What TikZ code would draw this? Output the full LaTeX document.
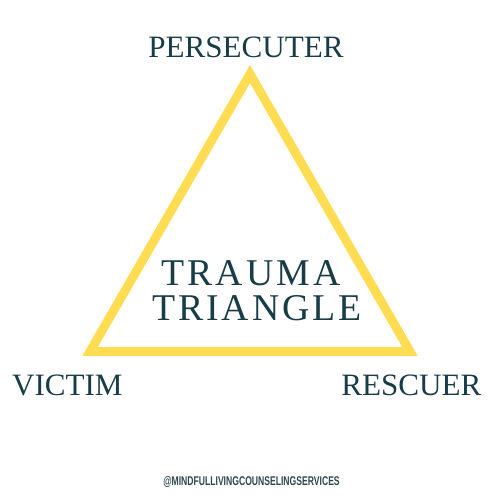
\documentclass[tikz,border=0pt]{standalone}
\usepackage{fontspec}
\setmainfont{Liberation Serif}
\newfontfamily\spacedserif[LetterSpace=8]{Liberation Serif}
\newfontfamily\tagsans{Liberation Sans}
\definecolor{triyellow}{RGB}{255,220,82}
\definecolor{tealtext}{RGB}{24,61,72}
\definecolor{tagtext}{RGB}{45,72,80}
\begin{document}
\begin{tikzpicture}[x=0.02cm,y=-0.02cm,
  rolelabel/.style={inner sep=0pt,text=tealtext,font=\fontsize{17.7}{20}\selectfont},
  titlelabel/.style={inner sep=0pt,text=tealtext,font=\spacedserif\fontsize{21.5}{24}\selectfont},
  taglabel/.style={inner sep=0pt,text=tagtext,font=\tagsans\bfseries\fontsize{7.2}{8}\selectfont},
  triline/.style={draw=triyellow,line width=5.1pt,line join=miter}]
\useasboundingbox[fill=white] (0,0) rectangle (500,500);
\coordinate (apex) at (250,74);
\coordinate (left) at (90,351.5);
\coordinate (right) at (410,351.5);
\draw[triline] (apex) -- (left) -- (right) -- cycle;
\node[rolelabel,anchor=base] (persecuter) at (246,57.3) {PERSECUTER};
\node[rolelabel,anchor=base west] (victim) at (11.7,395.5) {VICTIM};
\node[rolelabel,anchor=base east] (rescuer) at (481.7,395) {RESCUER};
\node[titlelabel,anchor=base] (trauma) at (251,285) {TRAUMA};
\node[titlelabel,anchor=base] (triangle) at (257,320) {TRIANGLE};
\node[taglabel,anchor=base] (tag) at (251.5,485) {\scalebox{0.68}[1]{@MINDFULLIVINGCOUNSELINGSERVICES}};
\end{tikzpicture}
\end{document}
